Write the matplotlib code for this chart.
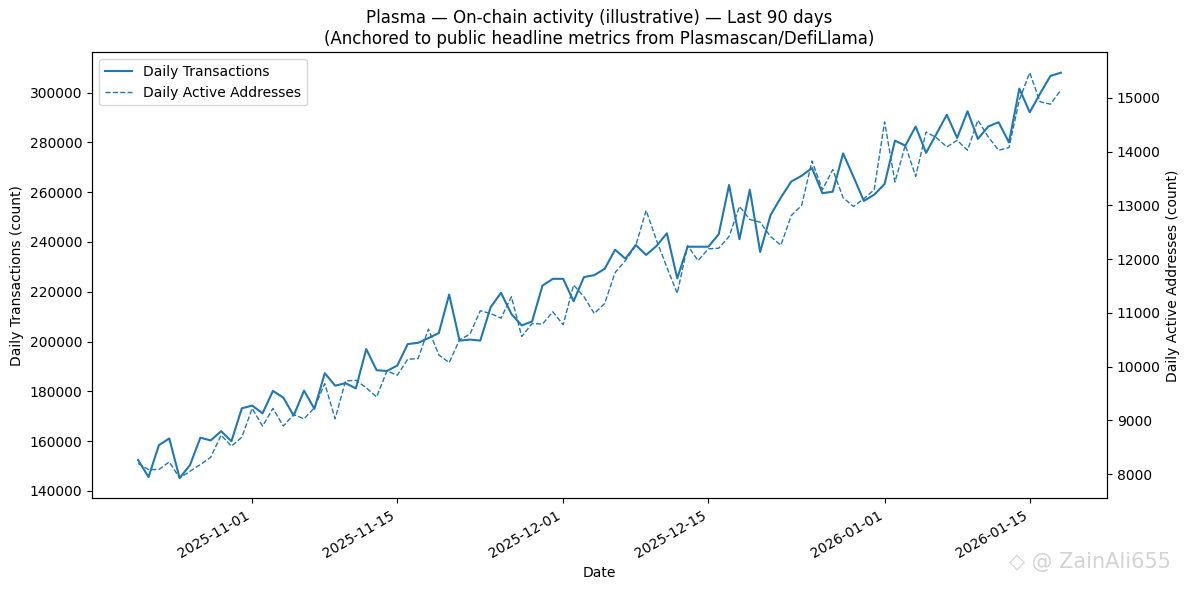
import pandas as pd
import numpy as np
import matplotlib.pyplot as plt

# Daily values (Oct 21 2025 .. Jan 18 2026)
dates = pd.date_range('2025-10-21', periods=90, freq='D')

daily_tx = [
    152400, 145600, 158400, 161100, 145200, 150400, 161400, 160300, 164000, 160000,
    173200, 174300, 171200, 180200, 177500, 170300, 180300, 173000, 187300, 182300,
    183300, 181200, 197000, 188500, 188200, 190400, 199000, 199500, 201400, 203400,
    218900, 200400, 200800, 200400, 213800, 219600, 211100, 206500, 208100, 222500,
    225200, 225200, 216200, 225900, 226700, 229200, 236900, 233300, 238800, 234800,
    238400, 243500, 225400, 238100, 238100, 238100, 243100, 262900, 241100, 261000,
    236000, 250800, 257900, 264300, 266600, 269700, 259600, 260200, 275600, 266200,
    256500, 259000, 263300, 280700, 278700, 286400, 275800, 283400, 291100, 281800,
    292500, 281400, 286400, 288100, 280000, 301600, 292100, 299600, 306700, 308000,
]

daily_active = [
    8200, 8088, 8088, 8230, 7930, 8056, 8180, 8317, 8728, 8522,
    8690, 9225, 8896, 9225, 8896, 9110, 9032, 9237, 9685, 9032,
    9735, 9748, 9610, 9437, 9922, 9842, 10140, 10151, 10700, 10220,
    10077, 10500, 10606, 11041, 10990, 10904, 11302, 10562, 10804, 10793,
    11022, 10780, 11520, 11302, 10990, 11177, 11750, 11974, 12254, 12907,
    12350, 11850, 11364, 12254, 11974, 12192, 12204, 12422, 12981, 12739,
    12689, 12420, 12260, 12813, 13000, 13827, 13293, 13666, 13144, 12981,
    13125, 13293, 14554, 13435, 14119, 13541, 14367, 14260, 14088, 14212,
    14026, 14586, 14274, 14026, 14076, 14963, 15469, 14927, 14884, 15146,
]

fig, ax1 = plt.subplots(figsize=(11.89, 5.89), dpi=100)
l1, = ax1.plot(dates, daily_tx, color='#1f77b4', lw=1.5, label='Daily Transactions')
ax1.set_xlabel('Date')
ax1.set_ylabel('Daily Transactions (count)')

ax2 = ax1.twinx()
l2, = ax2.plot(dates, daily_active, color='#1f77b4', lw=1, ls='--', label='Daily Active Addresses')
ax2.set_ylabel('Daily Active Addresses (count)')

ax1.legend(handles=[l1, l2], loc='upper left')
ax1.set_title('Plasma \u2014 On-chain activity (illustrative) \u2014 Last 90 days\n'
              '(Anchored to public headline metrics from Plasmascan/DefiLlama)')
fig.autofmt_xdate()
fig.subplots_adjust(left=0.0774, right=0.931, top=0.911, bottom=0.154)

# watermark from the source screenshot
fig.text(0.985, 0.045, '\u25c7 @ ZainAli655', ha='right', va='center',
         fontsize=15, color='#c8c8c8', alpha=0.8)

fig.savefig('out.png', dpi=100)
